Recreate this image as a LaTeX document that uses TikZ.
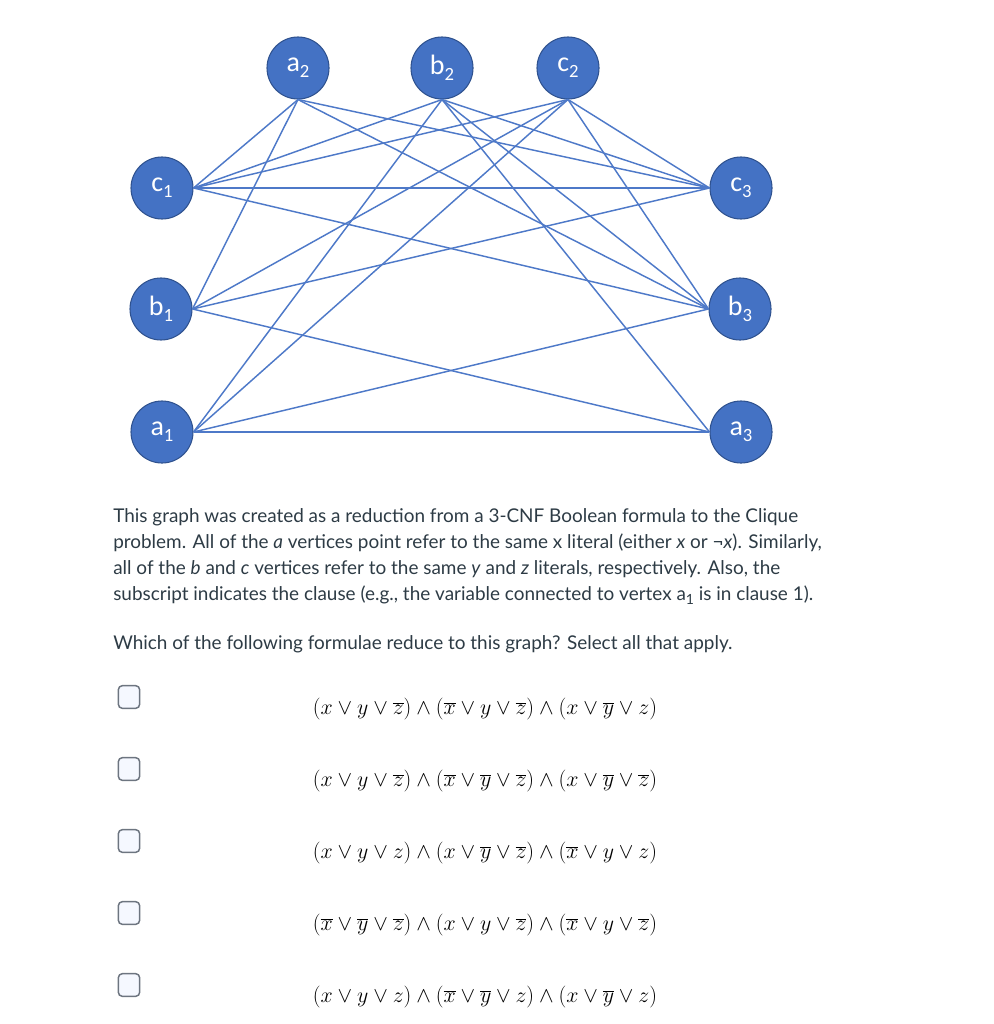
\documentclass[tikz,border=0pt]{standalone}
\usepackage{fontspec}
\setmainfont{Lato}
\newfontfamily\vertexfont{Carlito}
\usetikzlibrary{positioning}

\definecolor{vblue}{HTML}{4472C4}
\definecolor{vrim}{HTML}{2F528F}
\definecolor{vline}{HTML}{4E79C8}
\definecolor{boxgray}{HTML}{6D7580}
\definecolor{boxfill}{HTML}{F5F8FF}
\definecolor{textcol}{HTML}{2D3B45}

\newcommand{\negx}{\overline{x}}
\newcommand{\negy}{\overline{y}}
\newcommand{\negz}{\overline{z}}
\newcommand{\vsub}[1]{\raisebox{-4.5pt}{\fontsize{14}{14}\selectfont #1}}
\newcommand{\tsub}[1]{\raisebox{-3.5pt}{\fontsize{10.5}{10.5}\selectfont #1}}

\begin{document}
\begin{tikzpicture}[x=0.75pt,y=-0.75pt,
  vertex/.style={circle,fill=vblue,draw=vrim,line width=0.8pt,minimum size=46.5pt,
    inner sep=0pt,text=white,font=\vertexfont\fontsize{21}{24}\selectfont},
  link/.style={vline,line width=1.1pt},
  tickbox/.style={draw=boxgray,fill=boxfill,line width=1.1pt,rounded corners=3pt,
    minimum width=16pt,minimum height=17pt,inner sep=0pt},
  formula/.style={font=\fontsize{16}{19}\selectfont,scale=0.95,transform shape}]
  \useasboundingbox (0,0) rectangle (994,1024);

  % clause 2 on top, clause 1 left, clause 3 right
  \node[vertex] (a2) at (298,68) {a\vsub{2}};
  \node[vertex] (b2) at (442,68) {b\vsub{2}};
  \node[vertex] (c2) at (568,68) {c\vsub{2}};
  \node[vertex] (c1) at (162,188) {c\vsub{1}};
  \node[vertex] (b1) at (161,309) {b\vsub{1}};
  \node[vertex] (a1) at (162,432) {a\vsub{1}};
  \node[vertex] (c3) at (741,188) {c\vsub{3}};
  \node[vertex] (b3) at (740,309) {b\vsub{3}};
  \node[vertex] (a3) at (741,432) {a\vsub{3}};

  % edges
  \foreach \u/\v in {a2/c1,a2/b1,b2/c1,b2/a1,c2/c1,c2/b1,c2/a1}
    \draw[link] (\u.south) -- (\v.east);
  \foreach \u/\v in {a2/c3,a2/b3,b2/c3,b2/b3,b2/a3,c2/c3,c2/b3}
    \draw[link] (\u.south) -- (\v.west);
  \foreach \u/\v in {c1/c3,c1/b3,b1/c3,b1/a3,a1/b3,a1/a3}
    \draw[link] (\u.east) -- (\v.west);

  % question text
  \node[anchor=north west,align=left,inner sep=0pt,text=textcol,
    font=\fontsize{14.2}{19.5}\selectfont] (intro) at (113,508)
    {This graph was created as a reduction from a 3-CNF Boolean formula to the Clique\\
     problem. All of the \textit{a} vertices point refer to the same x literal (either \textit{x} or ¬\textit{x}). Similarly,\\
     all of the \textit{b} and \textit{c} vertices refer to the same \textit{y} and \textit{z} literals, respectively. Also, the\\
     subscript indicates the clause (e.g., the variable connected to vertex a\tsub{1} is in clause 1).};
  \node[anchor=base west,inner sep=0pt,text=textcol,font=\fontsize{14.2}{19.5}\selectfont]
    (ask) at (113,649) {Which of the following formulae reduce to this graph? Select all that apply.};

  % answer choices
  \foreach \i/\y/\f in {
      1/697/{(x\vee y\vee \negz)\wedge(\negx\vee y\vee \negz)\wedge(x\vee \negy\vee z)},
      2/769/{(x\vee y\vee \negz)\wedge(\negx\vee \negy\vee \negz)\wedge(x\vee \negy\vee \negz)},
      3/841/{(x\vee y\vee z)\wedge(x\vee \negy\vee \negz)\wedge(\negx\vee y\vee z)},
      4/913/{(\negx\vee \negy\vee \negz)\wedge(x\vee y\vee \negz)\wedge(\negx\vee y\vee \negz)},
      5/985/{(x\vee y\vee z)\wedge(\negx\vee \negy\vee z)\wedge(x\vee \negy\vee z)}}{
    \node[tickbox] (box\i) at (129,\y) {};
    \node[formula] (choice\i) at (485,\y+12) {$\f$};
  }
\end{tikzpicture}
\end{document}
